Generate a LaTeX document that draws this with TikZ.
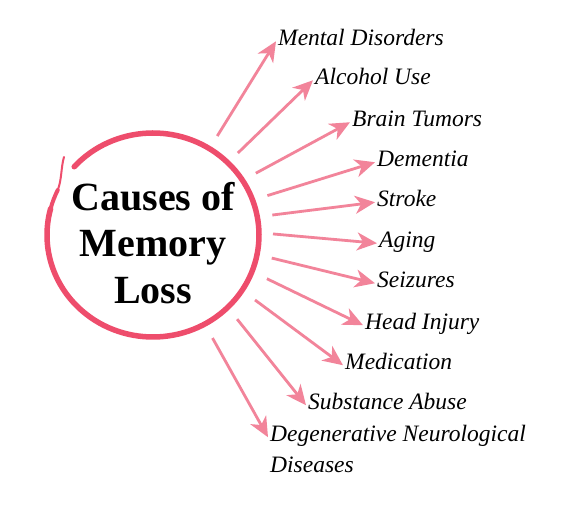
\documentclass[tikz,border=0pt]{standalone}
\usepackage{fontspec}
\setmainfont{Liberation Serif}
\usetikzlibrary{arrows.meta,positioning}
\definecolor{ringred}{HTML}{EE4D6C}
\definecolor{arrowpink}{HTML}{F2849A}
\tikzstyle{ring} = [draw=ringred, line width=5.5pt, line cap=round]
\tikzstyle{ringTail} = [draw=ringred, line cap=round]
\tikzstyle{causeArrow} = [draw=arrowpink, line width=2.8pt,
                          -{Stealth[length=20pt,width=18pt,inset=6pt]}]
\tikzstyle{cause} = [inner sep=2pt, anchor=base west,
                     text height=0.95em, text depth=0pt,
                     font=\itshape\fontsize{23.5}{31}\selectfont]
\tikzstyle{title} = [align=center,
                     font=\bfseries\fontsize{40}{46.5}\selectfont]

\begin{document}
\begin{tikzpicture}[x=1pt, y=1pt]

  \useasboundingbox[fill=white] (0,0) rectangle (576,514);

  \coordinate (c) at (153,279);

  \node (memory) [title] at (153,271) {
    Causes of\\
    Memory\\
    Loss
  };

  % hand drawn ring round the title
  \draw[ring] ([shift={(138:106 and 102)}]c)
    arc[start angle=138, end angle=-195, x radius=106, y radius=102]
    coordinate (ring-end);
  \draw[ringTail, line width=4pt] (ring-end)
    arc[start angle=165, end angle=154, x radius=107, y radius=104]
    coordinate (tail-mid);
  \draw[ringTail, line width=2pt] (tail-mid) .. controls +(4,10) and +(-3,-10) .. (64,357);

  % the causes
  \node (mental) [cause] at (276,468) {Mental Disorders};
  \node (alcohol) [cause] at (313,429) {Alcohol Use};
  \node (tumors) [cause] at (350,387) {Brain Tumors};
  \node (dementia) [cause] at (375,347) {Dementia};
  \node (stroke) [cause] at (375,307) {Stroke};
  \node (aging) [cause] at (377,266) {Aging};
  \node (seizures) [cause] at (375,226) {Seizures};
  \node (injury) [cause] at (363,184) {Head Injury};
  \node (medication) [cause] at (343,144) {Medication};
  \node (substance) [cause] at (306,104) {Substance Abuse};
  \node (degen) [cause] at (268,72) {Degenerative Neurological};
  \node (diseases) [cause] at ([yshift=-31pt]degen.base west) {Diseases};

  \coordinate (s-mental) at ([shift={(57:118)}]c);
  \coordinate (s-alcohol) at ([shift={(44:118)}]c);
  \coordinate (s-tumors) at ([shift={(31:120)}]c);
  \coordinate (s-dementia) at ([shift={(19:121)}]c);
  \coordinate (s-stroke) at ([shift={(9.5:121)}]c);
  \coordinate (s-aging) at ([shift={(0.5:120)}]c);
  \coordinate (s-seizures) at ([shift={(-11:121)}]c);
  \coordinate (s-injury) at ([shift={(-21:122)}]c);
  \coordinate (s-medication) at ([shift={(-32.5:121)}]c);
  \coordinate (s-substance) at ([shift={(-45:119)}]c);
  \coordinate (s-degen) at ([shift={(-60:119)}]c);

  \draw[causeArrow] (s-mental) to (mental.west);
  \draw[causeArrow] (s-alcohol) to (alcohol.west);
  \draw[causeArrow] (s-tumors) to (tumors.west);
  \draw[causeArrow] (s-dementia) to (dementia.west);
  \draw[causeArrow] (s-stroke) to (stroke.west);
  \draw[causeArrow] (s-aging) to (aging.west);
  \draw[causeArrow] (s-seizures) to (seizures.west);
  \draw[causeArrow] (s-injury) to (injury.west);
  \draw[causeArrow] (s-medication) to (medication.west);
  \draw[causeArrow] (s-substance) to (substance.west);
  \draw[causeArrow] (s-degen) to (degen.west);

\end{tikzpicture}
\end{document}
